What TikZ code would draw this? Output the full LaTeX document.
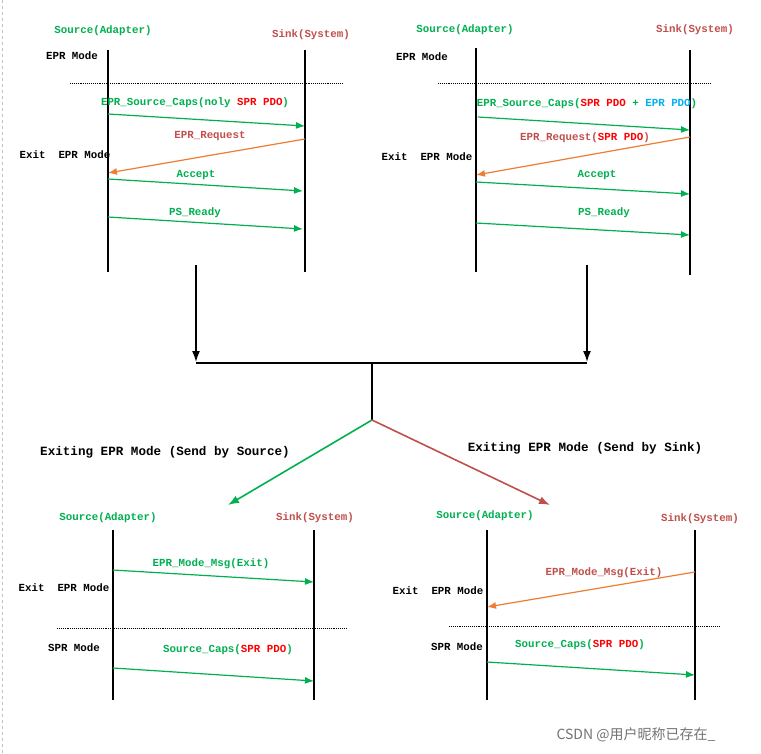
\documentclass[tikz,border=0pt]{standalone}
\usepackage{fontspec}
\usetikzlibrary{arrows.meta}
\setmonofont{Liberation Mono}
\newfontfamily\cjk{Noto Sans CJK SC}
\definecolor{gr}{HTML}{00B050}
\definecolor{rd}{HTML}{FF0000}
\definecolor{br}{HTML}{C0504D}
\definecolor{og}{HTML}{ED7D31}
\definecolor{bl}{HTML}{00B0F0}
\begin{document}
\begin{tikzpicture}[x=1pt,y=-1pt,
  txt/.style={font=\ttfamily\bfseries\fontsize{10.8}{12}\selectfont,inner sep=0pt},
  big/.style={font=\ttfamily\bfseries\fontsize{12.6}{14}\selectfont,inner sep=0pt},
  life/.style={line width=1.6pt},
  sep/.style={densely dotted,line width=0.9pt},
  gmsg/.style={gr,line width=1.2pt,-{Latex[length=9pt,width=7pt]}},
  omsg/.style={og,line width=1.2pt,-{Latex[length=9pt,width=7pt]}},
  flow/.style={line width=1.6pt,-{Latex[length=11pt,width=8pt]}}]
\useasboundingbox (0,0) rectangle (761,753);
\fill[white] (0,0) rectangle (761,753);
\draw[gray!50,dashed] (2,0) -- (2,753);
% ---------- top left
\coordinate (s1a) at (108,50); \coordinate (s1b) at (108,272);
\coordinate (k1a) at (305,50); \coordinate (k1b) at (305,272);
\draw[life] (s1a) -- (s1b); \draw[life] (k1a) -- (k1b);
\coordinate (d1a) at (70,83); \coordinate (d1b) at (342,83);
\draw[sep] (d1a) -- (d1b);
\node[txt,gr] (src1) at (103,31) {Source(Adapter)};
\node[txt,br] (snk1) at (311,35) {Sink(System)};
\node[txt] (m1) at (72,56) {EPR Mode};
\node[txt] (x1) at (65,155) {Exit\ \ EPR Mode};
\coordinate (a1) at (108,114); \coordinate (b1) at (305,126);
\draw[gmsg] (a1) -- (b1);
\node[txt,gr] (l1) at (195,103) {EPR\_Source\_Caps(noly \textcolor{rd}{SPR PDO})};
\coordinate (a2) at (305,139); \coordinate (b2) at (108,173);
\draw[omsg] (a2) -- (b2);
\node[txt,br] (l2) at (210,136) {EPR\_Request};
\coordinate (a3) at (108,179); \coordinate (b3) at (303,191);
\draw[gmsg] (a3) -- (b3);
\node[txt,gr] (l3) at (196,175) {Accept};
\coordinate (a4) at (108,217); \coordinate (b4) at (303,229);
\draw[gmsg] (a4) -- (b4);
\node[txt,gr] (l4) at (195,213) {PS\_Ready};
% ---------- top right
\coordinate (s2a) at (476,48); \coordinate (s2b) at (476,272);
\coordinate (k2a) at (690,50); \coordinate (k2b) at (690,275);
\draw[life] (s2a) -- (s2b); \draw[life] (k2a) -- (k2b);
\coordinate (d2a) at (438,83); \coordinate (d2b) at (710,83);
\draw[sep] (d2a) -- (d2b);
\node[txt,gr] (src2) at (465,30) {Source(Adapter)};
\node[txt,br] (snk2) at (695,30) {Sink(System)};
\node[txt] (m2) at (422,57) {EPR Mode};
\node[txt] (x2) at (427,157) {Exit\ \ EPR Mode};
\coordinate (a5) at (478,117); \coordinate (b5) at (690,130);
\draw[gmsg] (a5) -- (b5);
\node[txt,gr] (l5) at (587,104) {EPR\_Source\_Caps(\textcolor{rd}{SPR PDO} + \textcolor{bl}{EPR PDO})};
\coordinate (a6) at (690,137); \coordinate (b6) at (476,175);
\draw[omsg] (a6) -- (b6);
\node[txt,br] (l6) at (585,138) {EPR\_Request(\textcolor{rd}{SPR PDO})};
\coordinate (a7) at (476,182); \coordinate (b7) at (690,194);
\draw[gmsg] (a7) -- (b7);
\node[txt,gr] (l7) at (597,175) {Accept};
\coordinate (a8) at (476,223); \coordinate (b8) at (690,235);
\draw[gmsg] (a8) -- (b8);
\node[txt,gr] (l8) at (604,213) {PS\_Ready};
% ---------- merge
\coordinate (f1a) at (196,265); \coordinate (f1b) at (196,362);
\coordinate (f2a) at (587,265); \coordinate (f2b) at (587,362);
\draw[flow] (f1a) -- (f1b); \draw[flow] (f2a) -- (f2b);
\coordinate (h1) at (196,363); \coordinate (h2) at (587,363);
\coordinate (hm) at (372,363); \coordinate (hb) at (372,420);
\draw[line width=1.6pt] (h1) -- (h2); \draw[line width=1.6pt] (hm) -- (hb);
\coordinate (gL) at (228,505); \coordinate (gR) at (550,505);
\draw[flow,gr] (hb) -- (gL); \draw[flow,br] (hb) -- (gR);
\node[big] (e1) at (165,452) {Exiting EPR Mode (Send by Source)};
\node[big] (e2) at (585,448) {Exiting EPR Mode (Send by Sink)};
% ---------- bottom left
\coordinate (s3a) at (113,530); \coordinate (s3b) at (113,700);
\coordinate (k3a) at (314,530); \coordinate (k3b) at (314,700);
\draw[life] (s3a) -- (s3b); \draw[life] (k3a) -- (k3b);
\coordinate (d3a) at (57,628); \coordinate (d3b) at (347,628);
\draw[sep] (d3a) -- (d3b);
\node[txt,gr] (src3) at (108,518) {Source(Adapter)};
\node[txt,br] (snk3) at (315,518) {Sink(System)};
\node[txt] (x3) at (64,588) {Exit\ \ EPR Mode};
\node[txt] (m3) at (74,648) {SPR Mode};
\coordinate (a9) at (113,570); \coordinate (b9) at (314,582);
\draw[gmsg] (a9) -- (b9);
\node[txt,gr] (l9) at (211,564) {EPR\_Mode\_Msg(Exit)};
\coordinate (a10) at (113,668); \coordinate (b10) at (314,681);
\draw[gmsg] (a10) -- (b10);
\node[txt,gr] (l10) at (228,650) {Source\_Caps(\textcolor{rd}{SPR PDO})};
% ---------- bottom right
\coordinate (s4a) at (487,530); \coordinate (s4b) at (487,700);
\coordinate (k4a) at (695,530); \coordinate (k4b) at (695,700);
\draw[life] (s4a) -- (s4b); \draw[life] (k4a) -- (k4b);
\coordinate (d4a) at (449,626); \coordinate (d4b) at (719,626);
\draw[sep] (d4a) -- (d4b);
\node[txt,gr] (src4) at (485,516) {Source(Adapter)};
\node[txt,br] (snk4) at (700,519) {Sink(System)};
\node[txt] (x4) at (438,591) {Exit\ \ EPR Mode};
\node[txt] (m4) at (457,647) {SPR Mode};
\coordinate (a11) at (695,572); \coordinate (b11) at (487,607);
\draw[omsg] (a11) -- (b11);
\node[txt,br] (l11) at (604,573) {EPR\_Mode\_Msg(Exit)};
\coordinate (a12) at (487,662); \coordinate (b12) at (695,675);
\draw[gmsg] (a12) -- (b12);
\node[txt,gr] (l12) at (580,645) {Source\_Caps(\textcolor{rd}{SPR PDO})};
\node[font=\cjk\fontsize{14}{16}\selectfont,text=gray!90!black,inner sep=0pt] (wm) at (636,735) {CSDN @用户昵称已存在\_};
\end{tikzpicture}
\end{document}
